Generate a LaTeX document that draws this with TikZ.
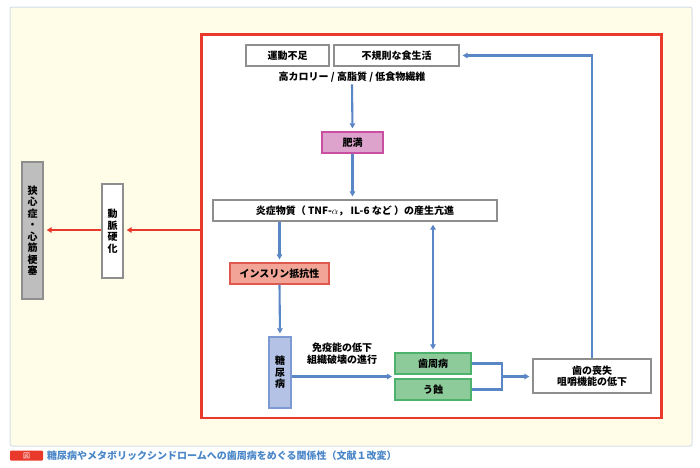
\documentclass[tikz,border=0pt]{standalone}
\usepackage{fontspec}
\usepackage{xcolor}
\usepackage{tikz}
\usetikzlibrary{arrows.meta}
\newfontfamily\jp{Noto Sans CJK JP}
\definecolor{panelbg}{HTML}{FFFCE8}
\definecolor{panelline}{HTML}{D3DEEA}
\definecolor{framered}{HTML}{E8392B}
\definecolor{boxgray}{HTML}{8E8E8E}
\definecolor{flowblue}{HTML}{5A86C6}
\definecolor{himanfill}{HTML}{DDA3CC}
\definecolor{himanline}{HTML}{C94FA3}
\definecolor{insfill}{HTML}{F2A596}
\definecolor{insline}{HTML}{E0594F}
\definecolor{dmfill}{HTML}{B3C2E5}
\definecolor{dmline}{HTML}{7C99D3}
\definecolor{perifill}{HTML}{8ECB9B}
\definecolor{periline}{HTML}{4DB36C}
\definecolor{heartfill}{HTML}{BEBEBE}
\definecolor{capblue}{HTML}{4A86C8}

\begin{document}
\begin{tikzpicture}[x=1pt,y=-1pt,
    font=\jp\bfseries\fontsize{10}{11.5}\selectfont,
    box/.style={draw=boxgray, fill=white, line width=1.3pt, inner sep=0pt},
    flow/.style={draw=flowblue, line width=2.1pt, shorten >=3pt,
        -{Triangle[length=5pt,width=5.5pt]}},
    twoway/.style={flow, shorten <=3pt,
        {Triangle[length=5pt,width=5.5pt]}-{Triangle[length=5pt,width=5.5pt]}},
    redflow/.style={draw=framered, line width=2.1pt, shorten >=3pt,
        -{Triangle[length=5pt,width=5.5pt]}}]
    \useasboundingbox (0,0) rectangle (700,467);
    % panel and frame
    \draw[panelline, fill=panelbg, line width=1pt, rounded corners=2pt] (10,7) rectangle (692,446);
    \draw[framered, fill=white, line width=2.4pt] (201.5,34.5) rectangle (661.5,418);

    % lifestyle
    \node[box, minimum width=83pt, minimum height=21pt] (undou) at (287.5,55.5) {運動不足};
    \node[box, minimum width=125pt, minimum height=21pt] (shoku) at (396.5,55.5) {不規則な食生活};
    \node[inner sep=2pt] (calorie) at (352,77) {高カロリー / 高脂質 / 低食物繊維};
    \node[box, draw=himanline, fill=himanfill, minimum width=61pt, minimum height=21pt] (himan) at (352.5,142.5) {肥満};
    \node[box, minimum width=284pt, minimum height=21pt] (enshou) at (355,210.5) {炎症物質（ TNF-$\alpha$， IL-6 など ）の産生亢進};

    % left side
    \node[box, minimum width=21pt, minimum height=94pt, align=center] (douma) at (112.5,231) {動\\脈\\硬\\化};
    \node[box, fill=heartfill, minimum width=21pt, minimum height=137pt, align=center] (kyou) at (32.5,230.5) {狭\\心\\症\\・\\心\\筋\\梗\\塞};
    \coordinate (frameL) at (201.5,230);

    % diabetes
    \node[box, draw=insline, fill=insfill, minimum width=99pt, minimum height=21pt] (insulin) at (279.5,273.5) {インスリン抵抗性};
    \node[box, draw=dmline, fill=dmfill, minimum width=22pt, minimum height=71pt, align=center] (tounyou) at (280,372.5) {糖\\尿\\病};
    \node[align=center] (meneki) at (342,353.5) {免疫能の低下\\組織破壊の進行};

    % teeth
    \node[box, draw=periline, fill=perifill, minimum width=76pt, minimum height=21pt] (shishu) at (433,363.5) {歯周病};
    \node[box, draw=periline, fill=perifill, minimum width=76pt, minimum height=21pt] (ushoku) at (433,389.5) {う蝕};
    \node[box, minimum width=118pt, minimum height=34pt, align=center] (soushitsu) at (592,376) {歯の喪失\\咀嚼機能の低下};
    \coordinate (gapL) at (395,376.5);
    \coordinate (join) at (502,376.5);

    % connectors
    \draw[flow] (calorie.south) -- (himan.north);
    \draw[flow] (himan.south) -- (himan.south |- enshou.north);
    \draw[flow] (insulin.north |- enshou.south) -- (insulin.north);
    \draw[flow] (insulin.south) -- (tounyou.north);
    \draw[flow] (tounyou.east |- gapL) -- (gapL);
    \draw[twoway] (shishu.north |- enshou.south) -- (shishu.north);
    \draw[flowblue, line width=2.1pt] (shishu.east) -| (join) |- (ushoku.east);
    \draw[flow] (join) -- (join -| soushitsu.west);
    \draw[flow] (soushitsu.north) |- (shoku.east);
    \draw[redflow] (frameL) -- (frameL -| douma.east);
    \draw[redflow] (douma.west |- frameL) -- (kyou.east |- frameL);

    % caption
    \node[fill=framered, rounded corners=1pt, minimum width=33pt, minimum height=10pt, inner sep=0pt,
        text=white, font=\jp\fontsize{7}{8}\selectfont] (tag) at (26.5,455.5) {図};
    \node[anchor=west, text=capblue, inner sep=0pt] (caption) at (47,456) {糖尿病やメタボリックシンドロームへの歯周病をめぐる関係性（文献１改変）};
\end{tikzpicture}
\end{document}
